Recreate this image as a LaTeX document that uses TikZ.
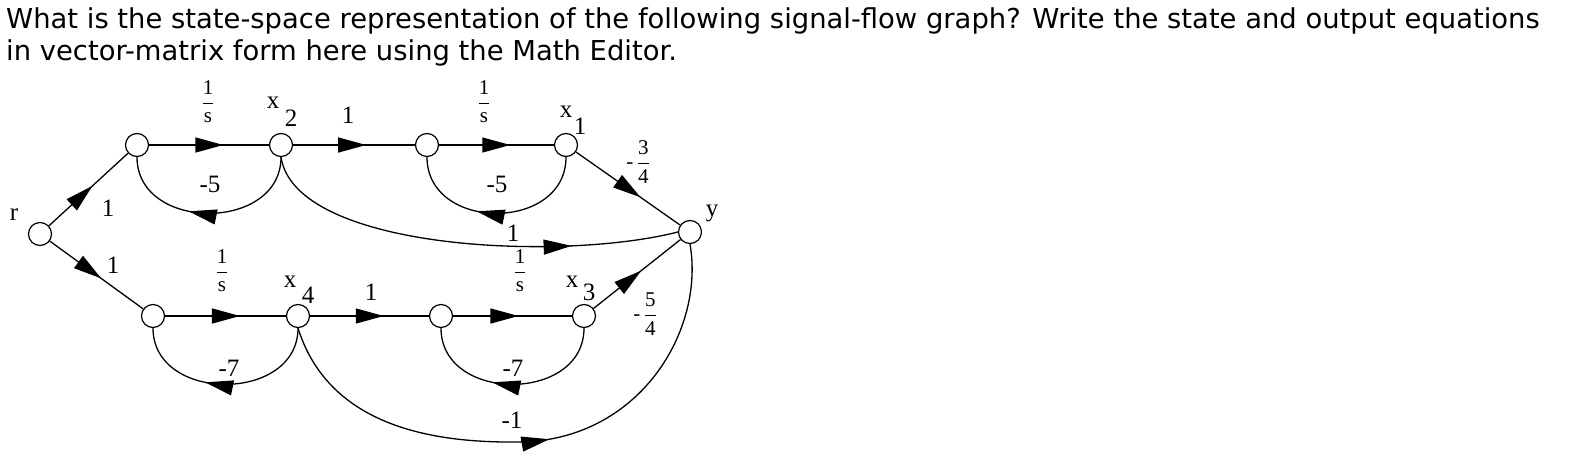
\documentclass[tikz,border=0pt]{standalone}
\usepackage{fontspec}
\setmainfont{Liberation Serif}
\newfontfamily\titlefont{DejaVu Sans}
\usetikzlibrary{decorations.markings,arrows.meta}
\newcommand{\myfr}[2]{$\displaystyle\frac{\mathrm{#1}}{\mathrm{#2}}$}
\begin{document}
\begin{tikzpicture}[x=1pt,y=-1pt,
  nd/.style={circle,draw,line width=1.2pt,fill=white,minimum size=23pt,inner sep=0pt},
  ln/.style={line width=1.3pt},
  midarrow/.style={postaction={decorate,decoration={markings,mark=at position #1 with {\arrow{Triangle[length=28pt,width=15pt]}}}}},
  lab/.style={font=\fontsize{25}{25}\selectfont,inner sep=0pt},
  fr/.style={font=\fontsize{21}{21}\selectfont,inner sep=0pt}]
\useasboundingbox (0,0) rectangle (1576,458);
\node[anchor=base west,inner sep=0pt,font=\titlefont\fontsize{27.4}{27.4}\selectfont] (t1) at (6,28) {What is the state-space representation of the following signal-flow graph? Write the state and output equations};
\node[anchor=base west,inner sep=0pt,font=\titlefont\fontsize{27.4}{27.4}\selectfont] (t2) at (6,60) {in vector-matrix form here using the Math Editor.};
\node[nd] (r) at (40,234) {};
\node[nd] (a) at (137,145) {};
\node[nd] (x2) at (281,145) {};
\node[nd] (b) at (427,145) {};
\node[nd] (x1) at (566,145) {};
\node[nd] (y) at (690,232) {};
\node[nd] (c) at (153,316) {};
\node[nd] (x4) at (298,316) {};
\node[nd] (d) at (441,316) {};
\node[nd] (x3) at (584,316) {};
\draw[ln,midarrow=0.55] (r) -- (a);
\draw[ln,midarrow=0.55] (r) -- (c);
\draw[ln,midarrow=0.62] (a) -- (x2);
\draw[ln,midarrow=0.6] (x2) -- (b);
\draw[ln,midarrow=0.62] (b) -- (x1);
\draw[ln,midarrow=0.62] (x1) -- (y);
\draw[ln,midarrow=0.62] (c) -- (x4);
\draw[ln,midarrow=0.62] (x4) -- (d);
\draw[ln,midarrow=0.55] (d) -- (x3);
\draw[ln,midarrow=0.55] (x3) -- (y);
\draw[ln,midarrow=0.6] (x2.south) .. controls +(0,75) and +(0,75) .. (a.south);
\draw[ln,midarrow=0.6] (x1.south) .. controls +(0,75) and +(0,75) .. (b.south);
\draw[ln,midarrow=0.6] (x4.south) .. controls +(0,75) and +(0,75) .. (c.south);
\draw[ln,midarrow=0.6] (x3.south) .. controls +(0,75) and +(0,75) .. (d.south);
\draw[ln,midarrow=0.75] (x2.south) .. controls (295,250) and (560,262) .. (y.west);
\draw[ln] (x4.south) .. controls (330,430) and (440,443) .. (520,442) coordinate (m);
\draw[ln,midarrow=0.1] (m) .. controls (640,440) and (705,330) .. (y.south);
\node[lab] (lr) at (14,215) {r};
\node[lab] (ly) at (712,213) {y};
\node[lab] (l1) at (108,208) {1};
\node[lab] (l2) at (113,265) {1};
\node[fr] (f1) at (208,102) {\myfr{1}{s}};
\node[fr] (f2) at (484,102) {\myfr{1}{s}};
\node[fr] (f3) at (222,271) {\myfr{1}{s}};
\node[fr] (f4) at (520,271) {\myfr{1}{s}};
\node[lab] (lx2) at (273,103) {x};
\node[lab] (sx2) at (291,118) {2};
\node[lab] (lx1) at (566,112) {x};
\node[lab] (sx1) at (580,126) {1};
\node[lab] (lx4) at (290,282) {x};
\node[lab] (sx4) at (308,295) {4};
\node[lab] (lx3) at (572,282) {x};
\node[lab] (sx3) at (589,292) {3};
\node[lab] (o1) at (348,115) {1};
\node[lab] (o2) at (371,292) {1};
\node[lab] (o3) at (513,233) {1};
\node[lab] (m5a) at (210,184) {-5};
\node[lab] (m5b) at (497,184) {-5};
\node[lab] (m7a) at (229,368) {-7};
\node[lab] (m7b) at (513,368) {-7};
\node[lab] (m1) at (512,420) {-1};
\node[fr] (q1) at (638,162) {-\,\myfr{3}{4}};
\node[fr] (q2) at (645,314) {-\,\myfr{5}{4}};
\end{tikzpicture}
\end{document}
